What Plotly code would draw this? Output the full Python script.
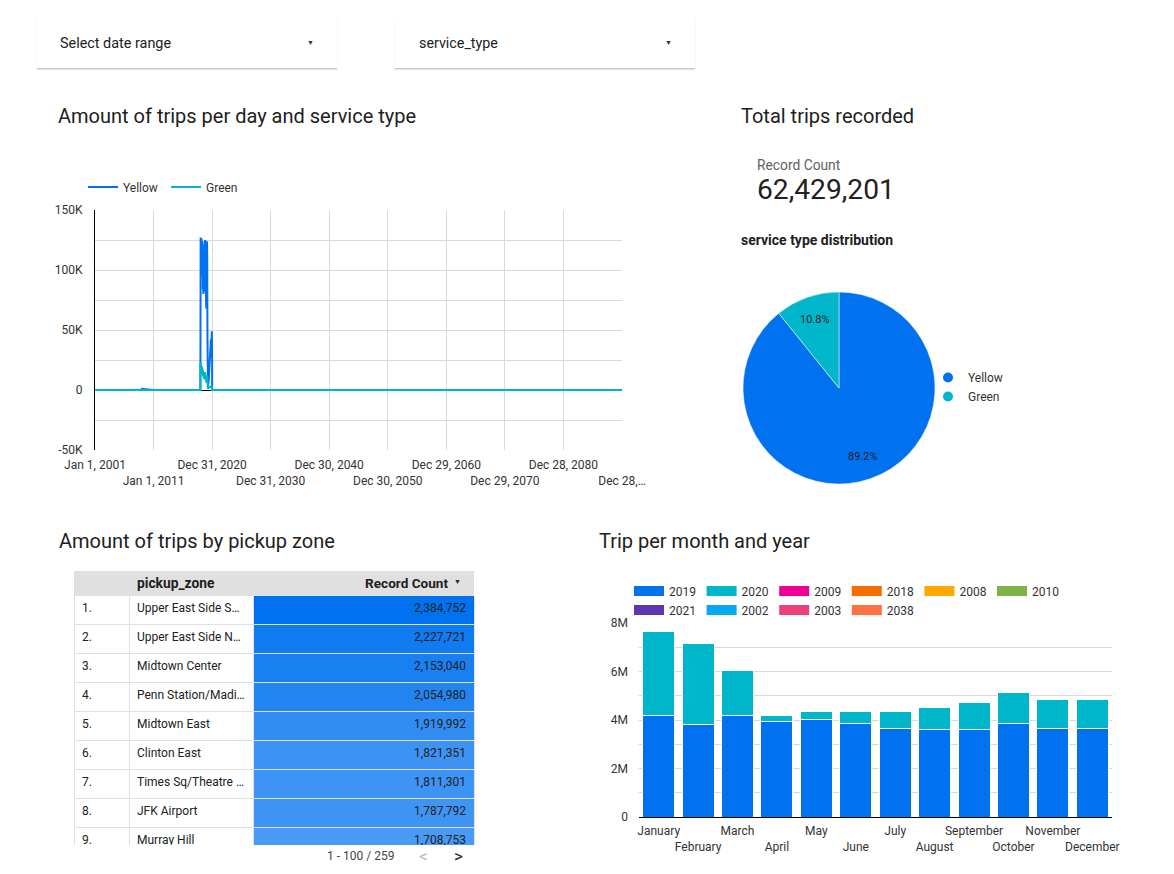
import math
import plotly.graph_objects as go

W, H = 1174, 874


def fx(p):
    return p / W


def fy(p):
    return 1 - p / H


# ---------------- data ----------------
filter_labels = ["Select date range", "service_type"]

trip_dates = [
    '2001-01-01', '2002-12-31', '2003-01-01', '2008-12-31', '2009-01-01', '2010-12-31', '2018-12-31',
    '2019-01-01', '2019-01-16', '2019-02-01', '2019-02-16', '2019-03-01', '2019-03-16', '2019-04-01', '2019-04-16',
    '2019-05-01', '2019-05-16', '2019-06-01', '2019-06-16', '2019-07-01', '2019-07-16', '2019-08-01', '2019-08-16',
    '2019-09-01', '2019-09-16', '2019-10-01', '2019-10-16', '2019-11-01', '2019-11-16', '2019-12-01', '2019-12-16',
    '2020-01-01', '2020-01-16', '2020-02-01', '2020-02-16', '2020-03-01', '2020-03-16', '2020-04-01', '2020-04-16',
    '2020-05-01', '2020-05-16', '2020-06-01', '2020-06-16', '2020-07-01', '2020-07-16', '2020-08-01', '2020-08-16',
    '2020-09-01', '2020-09-16', '2020-10-01', '2020-10-16', '2020-11-01', '2020-11-16', '2020-12-01', '2020-12-16',
    '2020-12-31', '2021-01-01', '2038-12-31', '2090-12-28']

yellow_trips = [
    2, 6, 4, 15, 900, 3, 120,
    118000, 127000, 96000, 125000, 108000, 126000, 95000, 122000,
    110000, 124000, 84000, 118000, 80000, 112000, 90000, 104000,
    82000, 121000, 98000, 125000, 112000, 118000, 86000, 117000,
    68000, 123000, 105000, 124000, 110000, 45000, 4000, 3000,
    4000, 6000, 8000, 12000, 16000, 20000, 18000, 26000,
    24000, 34000, 30000, 42000, 36000, 46000, 40000, 49000,
    22000, 60, 2, 1]

green_trips = [
    1, 3, 2, 8, 300, 1, 60,
    20000, 23000, 17000, 21000, 16000, 20000, 14000, 19000,
    15000, 18000, 12000, 16000, 11000, 15000, 10000, 14000,
    9000, 14000, 11000, 15000, 10000, 13000, 8000, 12000,
    6000, 12000, 10000, 12000, 11000, 5000, 1200, 1100,
    1300, 1500, 1800, 2000, 2200, 2400, 2300, 2600,
    2500, 2800, 2700, 3000, 2800, 3000, 2700, 2900,
    1500, 20, 1, 1]

line_tick_dates = ['2001-01-01', '2011-01-01', '2020-12-31', '2030-12-31', '2040-12-30',
                   '2050-12-30', '2060-12-29', '2070-12-29', '2080-12-28', '2090-12-28']
line_tick_labels = ['Jan 1, 2001', 'Jan 1, 2011', 'Dec 31, 2020', 'Dec 31, 2030', 'Dec 30, 2040',
                    'Dec 30, 2050', 'Dec 29, 2060', 'Dec 29, 2070', 'Dec 28, 2080', 'Dec 28,…']
line_y_ticks = [-50000, -25000, 0, 25000, 50000, 75000, 100000, 125000, 150000]
line_y_labels = ['-50K', '', '0', '', '50K', '', '100K', '', '150K']

record_count = 62429201
service_types = ['Yellow', 'Green']
service_counts = [55686847, 6742354]

table_columns = ['', 'pickup_zone', 'Record Count']
zone_rank = ['1.', '2.', '3.', '4.', '5.', '6.', '7.', '8.', '9.']
pickup_zones = ['Upper East Side S…', 'Upper East Side N…', 'Midtown Center', 'Penn Station/Madi…',
                'Midtown East', 'Clinton East', 'Times Sq/Theatre …', 'JFK Airport', 'Murray Hill']
zone_counts = [2384752, 2227721, 2153040, 2054980, 1919992, 1821351, 1811301, 1787792, 1708753]
zone_total = 259
page_size = 100

months = ['January', 'February', 'March', 'April', 'May', 'June', 'July',
          'August', 'September', 'October', 'November', 'December']
bar_years = ['2019', '2020', '2009', '2018', '2008', '2010', '2021', '2002', '2003', '2038']
trips_2019 = [4170000, 3820000, 4190000, 3950000, 4030000, 3860000, 3660000, 3620000, 3620000, 3840000, 3660000, 3660000]
trips_2020 = [3470000, 3350000, 1850000, 230000, 330000, 500000, 710000, 880000, 1110000, 1290000, 1200000, 1170000]
trips_2009 = [30000, 0, 0, 0, 0, 0, 0, 0, 0, 0, 0, 0]
trips_2018 = [0, 0, 0, 0, 0, 0, 0, 0, 0, 0, 20000, 10000]
trips_2008 = [0, 0, 0, 0, 0, 0, 0, 15000, 0, 30000, 0, 0]
trips_2010 = [0, 0, 0, 0, 0, 0, 0, 25000, 25000, 0, 0, 0]
trips_2021 = [15000, 20000, 0, 15000, 25000, 25000, 0, 0, 0, 0, 0, 20000]
trips_2002 = [0, 0, 0, 20000, 15000, 15000, 0, 0, 0, 0, 0, 20000]
trips_2003 = [0, 20000, 30000, 0, 0, 0, 0, 0, 0, 0, 0, 0]
trips_2038 = [0, 0, 0, 0, 0, 0, 0, 0, 0, 10000, 10000, 0]
bar_y_ticks = [0, 1000000, 2000000, 3000000, 4000000, 5000000, 6000000, 7000000, 8000000]
bar_y_labels = ['0', '', '2M', '', '4M', '', '6M', '', '8M']

# ---------------- styles ----------------
BLUE = '#0072f0'
CYAN = '#00b6cb'
year_colors = ['#0072f0', '#00b6cb', '#f10096', '#f66d00', '#ffa800', '#7cb342',
               '#5e35b1', '#03a9f4', '#ec407a', '#ff7043']
year_series = [trips_2019, trips_2020, trips_2009, trips_2018, trips_2008, trips_2010,
               trips_2021, trips_2002, trips_2003, trips_2038]
FONT = 'Roboto'
GRID = '#d9d9d9'
TXT = '#333333'
NBSP = '\u00a0'

fig = go.Figure()

# ---- line chart ----
fig.add_trace(go.Scatter(x=trip_dates, y=yellow_trips, name='Yellow', mode='lines',
                         line=dict(color=BLUE, width=2),
                         xaxis='x', yaxis='y', legend='legend'))
fig.add_trace(go.Scatter(x=trip_dates, y=green_trips, name='Green', mode='lines',
                         line=dict(color=CYAN, width=2),
                         xaxis='x', yaxis='y', legend='legend'))

# ---- pie ----
pie_x = [743, 935]
pie_y = [292, 484]
fig.add_trace(go.Pie(labels=service_types, values=service_counts, sort=False,
                     direction='clockwise', rotation=0,
                     marker=dict(colors=[BLUE, CYAN], line=dict(color='white', width=0.5)),
                     textinfo='none', showlegend=False,
                     domain=dict(x=[fx(pie_x[0]), fx(pie_x[1])], y=[fy(pie_y[1]), fy(pie_y[0])])))
for name, col in zip(service_types, [BLUE, CYAN]):
    fig.add_trace(go.Scatter(x=[None], y=[None], name=name, mode='markers',
                             marker=dict(color=col, size=10, symbol='circle'),
                             xaxis='x', yaxis='y', legend='legend2'))

# ---- table: gray title strip drawn separately; first data row serves as plotly's header row ----
tbl_x = [74, 474]
tbl_head = [571, 595]
tbl_bottom = 845
mx = max(zone_counts)
heat = []
for v in zone_counts:
    t = v / mx
    heat.append('rgb(%d,%d,%d)' % (round(255 + (0 - 255) * t), round(255 + (114 - 255) * t),
                                   round(255 + (240 - 255) * t)))
zone_txt = [z.replace(' ', NBSP) for z in pickup_zones]
count_txt = [f'{v:,}' for v in zone_counts]
cell_font = dict(family=FONT, size=12, color='#212121')
fig.add_trace(go.Table(
    columnwidth=[55, 124, 221],
    header=dict(values=[[zone_rank[0]], [zone_txt[0]], [count_txt[0]]],
                fill_color=['white', 'white', heat[0]],
                line_color='#e0e0e0', align=['left', 'left', 'right'], font=cell_font, height=29),
    cells=dict(values=[zone_rank[1:], zone_txt[1:], count_txt[1:]],
               fill_color=[['white'] * (len(zone_rank) - 1), ['white'] * (len(zone_rank) - 1), heat[1:]],
               line_color='#e0e0e0', align=['left', 'left', 'right'], font=cell_font, height=29),
    domain=dict(x=[fx(tbl_x[0]), fx(tbl_x[1])], y=[fy(tbl_bottom), fy(tbl_head[1])])))

# ---- bars ----
for yr, vals, col in zip(bar_years, year_series, year_colors):
    fig.add_trace(go.Bar(x=months, y=vals, name=yr, marker=dict(color=col, line=dict(color='white', width=1)),
                         xaxis='x2', yaxis='y2', showlegend=False))
for i, (yr, col) in enumerate(zip(bar_years, year_colors)):
    fig.add_trace(go.Scatter(x=[None], y=[None], name=yr, mode='lines',
                             line=dict(color=col, width=11),
                             xaxis='x2', yaxis='y2', legend='legend3' if i < 6 else 'legend4'))

# ---------------- layout ----------------
shapes = []
for x0 in (37, 395):
    x1 = x0 + 300
    shapes.append(dict(type='rect', xref='paper', yref='paper', x0=fx(x0 - 0.5), x1=fx(x1 + 0.5),
                       y0=fy(70.5), y1=fy(18.5), fillcolor='rgba(0,0,0,0.06)', line_width=0, layer='below'))
    shapes.append(dict(type='rect', xref='paper', yref='paper', x0=fx(x0), x1=fx(x1),
                       y0=fy(69.3), y1=fy(18.5), fillcolor='rgba(0,0,0,0.16)', line_width=0, layer='below'))
    shapes.append(dict(type='rect', xref='paper', yref='paper', x0=fx(x0), x1=fx(x1),
                       y0=fy(68), y1=fy(18), fillcolor='white', line_width=0, layer='below'))
shapes.append(dict(type='rect', xref='paper', yref='paper', x0=fx(tbl_x[0]), x1=fx(tbl_x[1]),
                   y0=fy(tbl_head[1]), y1=fy(tbl_head[0]), fillcolor='#e0e0e0', line_width=0, layer='below'))

anns = []


def txt(x, y, s, size=12, color=TXT, anchor='left'):
    xx = x - 2 if anchor == 'left' else (x + 2 if anchor == 'right' else x)
    anns.append(dict(xref='paper', yref='paper', x=fx(xx), y=fy(y), text=s, showarrow=False,
                     xanchor=anchor, yanchor='middle', font=dict(family=FONT, size=size, color=color)))


txt(60, 43, filter_labels[0], 14.4, '#212121')
txt(310, 43, '▼', 7, '#333333', 'center')
txt(419, 43, filter_labels[1], 14.3, '#212121')
txt(668, 43, '▼', 7, '#333333', 'center')
txt(58, 116, 'Amount of trips per day and service type', 20, '#212121')
txt(741, 116, 'Total trips recorded', 20, '#212121')
txt(757, 165, 'Record Count', 13.8, '#616161')
txt(757, 190, f'{record_count:,}', 28.2, '#212121')
txt(741, 240, '<b>service type distribution</b>', 14, '#212121')
txt(59, 541, 'Amount of trips by pickup zone', 20, '#212121')
txt(599, 541, 'Trip per month and year', 20, '#212121')
txt(360, 856, f'1 - {page_size} / {zone_total}', 12, '#444444', 'center')
txt(423, 856, '<', 17, '#bdbdbd', 'center')
txt(458, 856, '>', 17, '#222222', 'center')
# table header texts
hy = (tbl_head[0] + tbl_head[1]) / 2
txt(137, hy, '<b>' + table_columns[1] + '</b>', 13.8, '#212121')
txt(448, hy, '<b>' + table_columns[2] + '</b>', 13.6, '#212121', 'right')
txt(457, hy - 1, '▼', 7, '#212121', 'center')

# percentage labels inside the pie slices, placed at 76% of the radius on each slice's mid-angle
cx, cy = (pie_x[0] + pie_x[1]) / 2, (pie_y[0] + pie_y[1]) / 2
R = (pie_x[1] - pie_x[0]) / 2
tot = sum(service_counts)
acc = 0
for v in service_counts:
    mid = (acc + v / 2) / tot * 2 * math.pi
    acc += v
    txt(cx + 0.76 * R * math.sin(mid), cy - 0.76 * R * math.cos(mid), f'{v / tot:.1%}', 11, '#222222', 'center')

leg_common = dict(orientation='h', bgcolor='rgba(0,0,0,0)', font=dict(family=FONT, size=12, color=TXT),
                  xanchor='left', yanchor='middle', entrywidthmode='pixels', traceorder='normal')

fig.update_layout(
    autosize=True, margin=dict(l=0, r=0, t=0, b=0, pad=0, autoexpand=False),
    paper_bgcolor='white', plot_bgcolor='white',
    font=dict(family=FONT, size=12, color=TXT),
    showlegend=True,
    shapes=shapes, annotations=anns,
    barmode='stack', bargap=0.19,
    xaxis=dict(domain=[fx(95), fx(622)], type='date', range=[trip_dates[0], line_tick_dates[-1]],
               tickmode='array', tickvals=line_tick_dates, tickangle=0, automargin=False,
               ticktext=[l if i % 2 == 0 else '<br>' + l for i, l in enumerate(line_tick_labels)],
               showgrid=True, gridcolor=GRID, gridwidth=1, zeroline=False, showline=False,
               ticks='', ticklabelstandoff=6, tickfont=dict(size=12, color=TXT), anchor='y'),
    yaxis=dict(domain=[fy(450), fy(210)], range=[-50000, 150000], tickmode='array', automargin=False,
               tickvals=line_y_ticks, ticktext=line_y_labels, showgrid=True, gridcolor=GRID,
               zeroline=True, zerolinecolor='black', zerolinewidth=1,
               showline=True, linecolor='black', linewidth=1, ticks='', ticklabelstandoff=9,
               tickfont=dict(size=12, color=TXT), anchor='x'),
    xaxis2=dict(domain=[fx(639), fx(1112)], showgrid=False, showline=True, linecolor='black', linewidth=1,
                tickmode='array', tickvals=months, tickangle=0, automargin=False,
                ticktext=[m if i % 2 == 0 else '<br>' + m for i, m in enumerate(months)],
                ticks='', ticklabelstandoff=3, tickfont=dict(size=12, color=TXT), anchor='y2'),
    yaxis2=dict(domain=[fy(817), fy(623)], range=[0, 8000000], tickmode='array', automargin=False,
                tickvals=bar_y_ticks, ticktext=bar_y_labels, showgrid=True, gridcolor=GRID,
                zeroline=False, showline=False, ticks='', ticklabelstandoff=10,
                tickfont=dict(size=12, color=TXT), anchor='x2'),
    legend=dict(leg_common, x=fx(83), y=fy(187), entrywidth=38),
    legend2=dict(leg_common, orientation='v', x=fx(928), y=fy(387)),
    legend3=dict(leg_common, x=fx(629), y=fy(591), entrywidth=27.6),
    legend4=dict(leg_common, x=fx(629), y=fy(610), entrywidth=27.6),
)

post = """
document.documentElement.style.margin='0';
document.body.style.margin='0';
document.body.style.overflow='hidden';
Plotly.Plots.resize(document.getElementById('{plot_id}'));
"""

fig.write_html("out.html", include_plotlyjs=True, full_html=True, config={'displayModeBar': False},
               default_width='100vw', default_height='100vh', post_script=post)
